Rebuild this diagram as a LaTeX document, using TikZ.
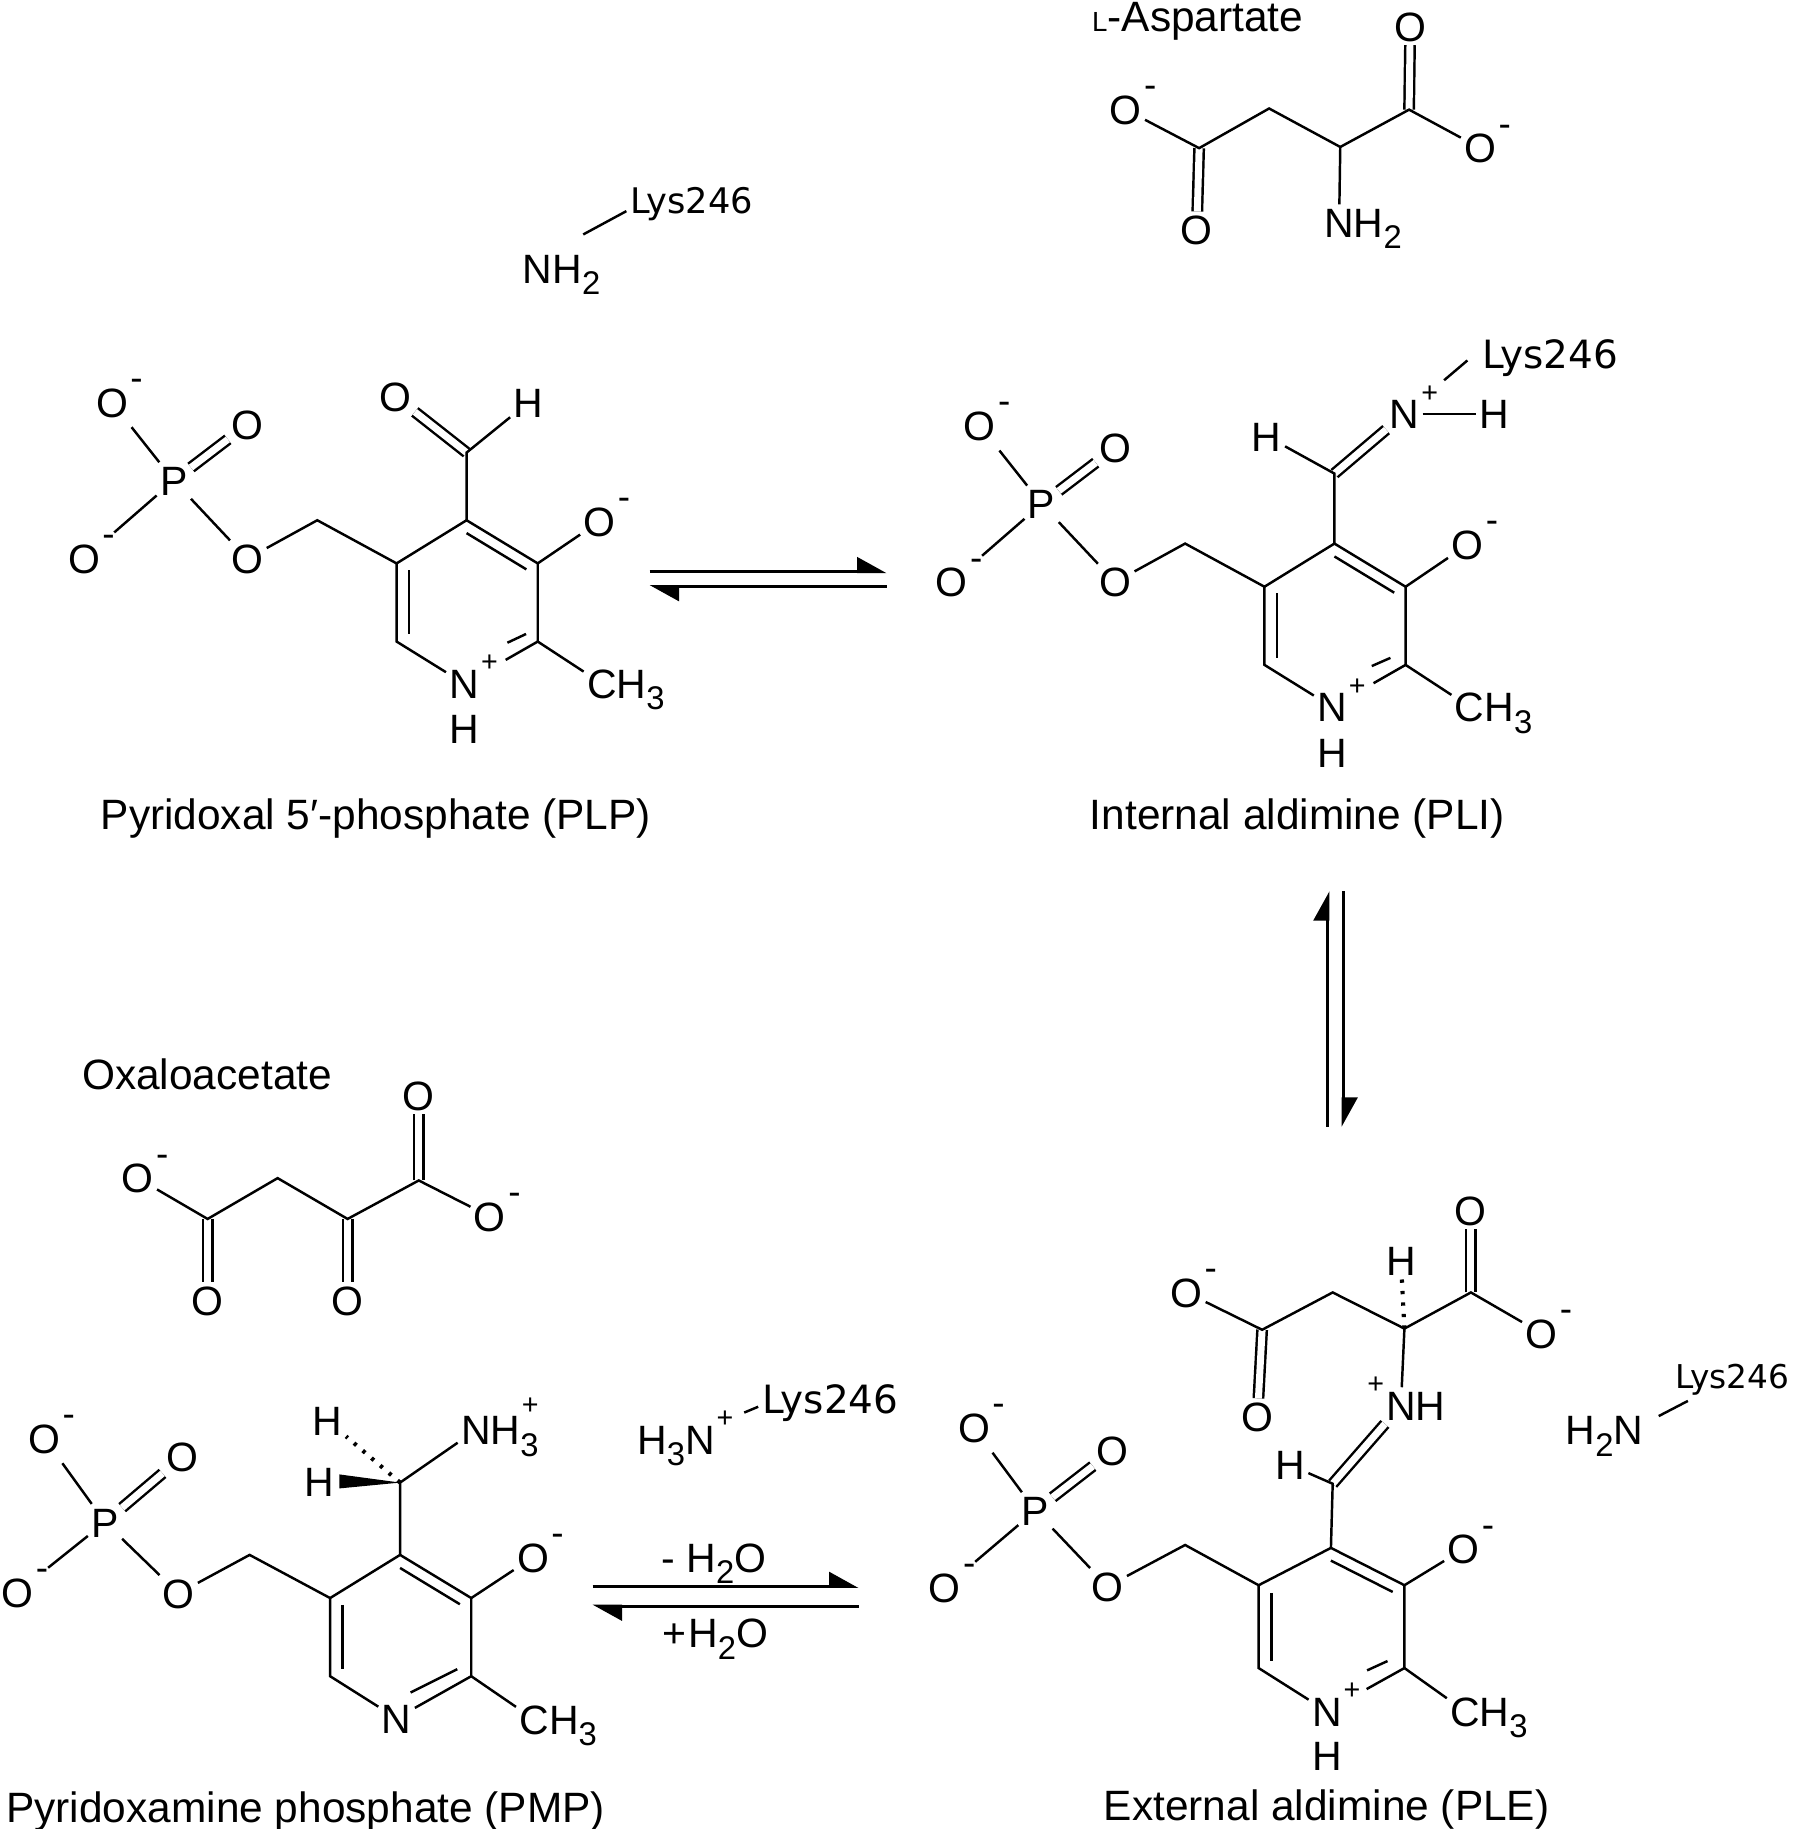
\documentclass[tikz,border=0pt]{standalone}
\usepackage{fontspec}
\setmainfont{Liberation Sans}
\newfontfamily\lysfont{DejaVu Sans}
\usetikzlibrary{arrows.meta,calc}
\newcommand{\chgm}{\rlap{\kern1.2pt\raisebox{13pt}{\fontsize{18}{18}\selectfont -}}}
\newcommand{\chgp}{\rlap{\kern1pt\raisebox{13pt}{\fontsize{14}{14}\selectfont +}}}
\newcommand{\subn}[1]{\raisebox{-5.5pt}{\fontsize{16}{16}\selectfont #1}}

\begin{document}
\begin{tikzpicture}[x=0.02cm,y=0.02cm]
\tikzstyle{atom}=[inner sep=1.5pt,text height=14.5pt,text depth=0pt,font=\fontsize{20}{20}\selectfont]
\tikzstyle{lab}=[inner sep=0pt,anchor=base west,font=\fontsize{20.7}{24}\selectfont]
\tikzstyle{bond}=[black,line width=1.2pt]
\tikzstyle{dbond}=[black,line width=1.2pt,double,double distance between line centers=4.6pt]
\tikzstyle{hash}=[black,line width=2pt,dash pattern=on 1.6pt off 4pt]
\tikzstyle{eqm}=[black,line width=1.5pt,-{Triangle[harpoon,length=13pt,width=14pt]}]
\useasboundingbox (0,0) rectangle (1543.1,-1568);
% top left, pyridoxal phosphate
\node (plpOa) at (96,-345) [atom] {O\chgm};
\node (plpOb) at (212,-364) [atom] {O};
\node (plpP) at (149,-412) [atom] {P};
\node (plpOc) at (72,-479) [atom] {O\chgm};
\node (plpOd) at (212,-479) [atom] {O};
\coordinate (plpch) at (272,-446);
\coordinate (plpc5) at (340,-483);
\coordinate (plpc4) at (400,-446);
\coordinate (plpc3) at (461,-483);
\coordinate (plpc2) at (461,-550);
\coordinate (plpc6) at (340,-550);
\coordinate (plpctr) at (400,-515);
\coordinate (plpcho) at (400,-388);
\node (plpN) at (398,-586) [atom] {N\chgp};
\node (plpNH) at (398,-625) [atom] {H};
\node (plpMe) at (516,-586) [atom] {C\rlap{H\subn{3}}};
\node (plpOe) at (514,-447) [atom] {O\chgm};
\node (plpOf) at (339,-340) [atom] {O};
\node (plpH) at (453,-345) [atom] {H};
\draw [dbond] (plpP) -- (plpOb);
\draw [dbond] (plpcho) -- (plpOf);
\draw [bond,shorten <=4pt] (plpOa) -- (plpP);
\draw [bond,shorten <=7pt] (plpOc) -- (plpP);
\draw [bond] (plpP) -- (plpOd);
\draw [bond] (plpOd) -- (plpch) -- (plpc5) -- (plpc4) -- (plpc3) -- (plpc2);
\draw [bond] (plpc5) -- (plpc6) -- (plpN);
\draw [bond,shorten >=13pt] (plpc2) -- (plpN);
\draw [bond] (plpc2) -- (plpMe);
\draw [bond] (plpc3) -- (plpOe);
\draw [bond] (plpc4) -- (plpcho) -- (plpH);
\draw [bond] ($(plpc4)!.16!(plpctr)$) -- ($(plpc3)!.16!(plpctr)$);
\draw [bond] ($(plpc5)!.18!(plpctr)$) -- ($(plpc6)!.18!(plpctr)$);
\coordinate (plpia) at (451,-543.5);
\coordinate (plpib) at (435,-551);
\draw [bond] (plpia) -- (plpib);
% free lysine above it
\node (lysa) at (593,-175) [inner sep=0pt,font=\lysfont\fontsize{17.2}{18}\selectfont] {Lys246};
\node (nha) at (461,-230) [atom] {N\rlap{H\subn{2}}};
\coordinate (lysaa) at (500,-201);
\coordinate (lysab) at (537,-181);
\draw [bond] (lysaa) -- (lysab);
% equilibrium PLP / PLI
\coordinate (eqaa) at (557,-490);
\coordinate (eqab) at (760,-490);
\coordinate (eqac) at (760,-503);
\coordinate (eqad) at (557,-503);
\draw [eqm] (eqaa) -- (eqab);
\draw [eqm] (eqac) -- (eqad);
% aspartate
\node (aspname) at (936,-27) [lab] {{\fontsize{13.5}{14}\selectfont L}-Aspartate};
\node (aspOa) at (965,-94) [atom] {O\chgm};
\node (aspOb) at (1209,-23) [atom] {O};
\node (aspOc) at (1269,-127) [atom] {O\chgm};
\node (aspOd) at (1026,-197) [atom] {O};
\node (aspN) at (1148,-191) [atom] {N\rlap{H\subn{2}}};
\coordinate (aspca) at (1208,-94);
\coordinate (aspcb) at (1149,-126);
\coordinate (aspcc) at (1088,-93);
\coordinate (aspcd) at (1028,-127);
\draw [dbond] (aspca) -- (aspOb);
\draw [dbond] (aspcd) -- (aspOd);
\draw [bond] (aspOa) -- (aspcd) -- (aspcc) -- (aspcb) -- (aspca) -- (aspOc);
\draw [bond] (aspcb) -- (aspN);
% internal aldimine
\node (pliOa) at (840,-365) [atom] {O\chgm};
\node (pliOb) at (956,-384) [atom] {O};
\node (pliP) at (893,-432) [atom] {P};
\node (pliOc) at (816,-499) [atom] {O\chgm};
\node (pliOd) at (956,-499) [atom] {O};
\coordinate (plich) at (1016,-466);
\coordinate (plic5) at (1084,-503);
\coordinate (plic4) at (1144,-466);
\coordinate (plic3) at (1205,-503);
\coordinate (plic2) at (1205,-570);
\coordinate (plic6) at (1084,-570);
\coordinate (plictr) at (1144,-535);
\coordinate (plicn) at (1144,-406);
\node (pliN) at (1142,-606) [atom] {N\chgp};
\node (pliNH) at (1142,-645) [atom] {H};
\node (pliMe) at (1260,-606) [atom] {C\rlap{H\subn{3}}};
\node (pliOe) at (1258,-467) [atom] {O\chgm};
\node (pliNi) at (1204,-355) [atom] {N\chgp};
\node (pliHa) at (1086,-374) [atom] {H};
\node (pliHb) at (1281,-355) [atom] {H};
\node (lysb) at (1329,-307) [inner sep=0pt,font=\lysfont\fontsize{19}{20}\selectfont] {Lys246};
\draw [dbond] (pliP) -- (pliOb);
\draw [dbond] (plicn) -- (pliNi);
\draw [bond,shorten <=4pt] (pliOa) -- (pliP);
\draw [bond,shorten <=7pt] (pliOc) -- (pliP);
\draw [bond] (pliP) -- (pliOd);
\draw [bond] (pliOd) -- (plich) -- (plic5) -- (plic4) -- (plic3) -- (plic2);
\draw [bond] (plic5) -- (plic6) -- (pliN);
\draw [bond,shorten >=13pt] (plic2) -- (pliN);
\draw [bond] (plic2) -- (pliMe);
\draw [bond] (plic3) -- (pliOe);
\draw [bond] (plic4) -- (plicn) -- (pliHa);
\draw [bond] (pliNi) -- (pliHb);
\draw [bond] ($(plic4)!.16!(plictr)$) -- ($(plic3)!.16!(plictr)$);
\draw [bond] ($(plic5)!.18!(plictr)$) -- ($(plic6)!.18!(plictr)$);
\coordinate (pliia) at (1192,-564);
\coordinate (pliib) at (1176,-571);
\draw [bond] (pliia) -- (pliib);
\coordinate (lysba) at (1238,-326);
\coordinate (lysbb) at (1258,-309);
\draw [bond] (lysba) -- (lysbb);
% names of the top row
\node (plpname) at (86,-711) [lab] {Pyridoxal 5′-phosphate (PLP)};
\node (pliname) at (934,-711) [lab] {Internal aldimine (PLI)};
% equilibrium PLI / PLE
\coordinate (eqba) at (1138.4,-966);
\coordinate (eqbb) at (1138.4,-764);
\coordinate (eqbc) at (1151.5,-764);
\coordinate (eqbd) at (1151.5,-966);
\draw [eqm] (eqba) -- (eqbb);
\draw [eqm] (eqbc) -- (eqbd);
% oxaloacetate
\node (oxaname) at (70,-934) [lab] {Oxaloacetate};
\node (oxaOa) at (118,-1010) [atom] {O\chgm};
\node (oxaOb) at (359,-939) [atom] {O};
\node (oxaOc) at (420,-1043) [atom] {O\chgm};
\node (oxaOd) at (178,-1115) [atom] {O};
\node (oxaOe) at (298,-1115) [atom] {O};
\coordinate (oxaca) at (359,-1012);
\coordinate (oxacb) at (298,-1045);
\coordinate (oxacc) at (238,-1010);
\coordinate (oxacd) at (178,-1045);
\draw [dbond] (oxaca) -- (oxaOb);
\draw [dbond] (oxacb) -- (oxaOe);
\draw [dbond] (oxacd) -- (oxaOd);
\draw [bond] (oxaOa) -- (oxacd) -- (oxacc) -- (oxacb) -- (oxaca) -- (oxaOc);
% pyridoxamine phosphate
\node (pmpOa) at (38,-1233) [atom] {O\chgm};
\node (pmpOb) at (156,-1249) [atom] {O};
\node (pmpP) at (90,-1305) [atom] {P};
\node (pmpOc) at (15,-1365) [atom] {O\chgm};
\node (pmpOd) at (153,-1366) [atom] {O};
\coordinate (pmpch) at (214,-1333);
\coordinate (pmpc5) at (283,-1370);
\coordinate (pmpc4) at (343,-1333);
\coordinate (pmpc3) at (404,-1370);
\coordinate (pmpc2) at (404,-1437);
\coordinate (pmpc6) at (283,-1437);
\coordinate (pmpctr) at (343,-1403);
\coordinate (pmpcn) at (343,-1271);
\node (pmpN) at (340,-1473) [atom] {N};
\node (pmpMe) at (458,-1474) [atom] {C\rlap{H\subn{3}}};
\node (pmpOe) at (457,-1335) [atom] {O\chgm};
\node (pmpHa) at (281,-1218) [atom] {H};
\node (pmpHb) at (274,-1270) [atom] {H};
\node (pmpNi) at (408,-1226) [atom] {N\rlap{H\subn{3}\llap{\raisebox{15pt}{\fontsize{14}{14}\selectfont +}}}};
\coordinate (pmpwa) at (291,-1264);
\coordinate (pmpwb) at (291,-1276);
\draw [dbond] (pmpP) -- (pmpOb);
\draw [bond,shorten <=4pt] (pmpOa) -- (pmpP);
\draw [bond,shorten <=7pt] (pmpOc) -- (pmpP);
\draw [bond] (pmpP) -- (pmpOd);
\draw [bond] (pmpOd) -- (pmpch) -- (pmpc5) -- (pmpc4) -- (pmpc3) -- (pmpc2);
\draw [bond] (pmpc5) -- (pmpc6) -- (pmpN);
\draw [bond] (pmpc2) -- (pmpN);
\draw [bond] (pmpc2) -- (pmpMe);
\draw [bond] (pmpc3) -- (pmpOe);
\draw [bond] (pmpc4) -- (pmpcn) -- (pmpNi);
\draw [hash] (pmpcn) -- (pmpHa);
\fill [black] (pmpcn) -- (pmpwa) -- (pmpwb) -- cycle;
\draw [bond] ($(pmpc4)!.16!(pmpctr)$) -- ($(pmpc3)!.16!(pmpctr)$);
\draw [bond] ($(pmpc5)!.18!(pmpctr)$) -- ($(pmpc6)!.18!(pmpctr)$);
\coordinate (pmpia) at (392,-1431);
\coordinate (pmpib) at (352,-1451);
\draw [bond] (pmpia) -- (pmpib);
\node (pmpname) at (5,-1562) [lab] {Pyridoxamine phosphate (PMP)};
% lysine and water between the bottom molecules
\node (nhc) at (600,-1234) [atom] {\llap{H\subn{3}}N\chgp};
\node (lysc) at (712,-1203) [inner sep=0pt,font=\lysfont\fontsize{19}{20}\selectfont] {Lys246};
\coordinate (lysca) at (638,-1211);
\coordinate (lyscb) at (650,-1206);
\draw [bond] (lysca) -- (lyscb);
\node (wata) at (612,-1335) [atom] {- H\subn{2}O};
\node (watb) at (613,-1400) [atom] {+\kern1pt H\subn{2}O};
\coordinate (eqca) at (508,-1360);
\coordinate (eqcb) at (736,-1360);
\coordinate (eqcc) at (736,-1377);
\coordinate (eqcd) at (508,-1377);
\draw [eqm] (eqca) -- (eqcb);
\draw [eqm] (eqcc) -- (eqcd);
% external aldimine
\node (pleOa) at (835,-1224) [atom] {O\chgm};
\node (pleOb) at (953.5,-1244) [atom] {O};
\node (pleP) at (887.7,-1295) [atom] {P};
\node (pleOc) at (810,-1361) [atom] {O\chgm};
\node (pleOd) at (949.5,-1360) [atom] {O};
\coordinate (plech) at (1016,-1324.5);
\coordinate (plec5) at (1079,-1359);
\coordinate (plec4) at (1141,-1327);
\coordinate (plec3) at (1204,-1359);
\coordinate (plec2) at (1204,-1430);
\coordinate (plec6) at (1079,-1430);
\coordinate (plectr) at (1141,-1395);
\coordinate (plecn) at (1142.5,-1272);
\node (pleN) at (1137.5,-1467) [atom] {N\chgp};
\node (pleNH) at (1137.5,-1505) [atom] {H};
\node (pleMe) at (1256,-1467) [atom] {C\rlap{H\subn{3}}};
\node (pleOe) at (1254.7,-1328) [atom] {O\chgm};
\node (pleHa) at (1106,-1256) [atom] {H};
\node (pleNi) at (1201,-1205) [atom] {\llap{\raisebox{13pt}{\fontsize{14}{14}\selectfont +}\kern1pt}N\rlap{H}};
\coordinate (pleaa) at (1204,-1139);
\coordinate (pleab) at (1261,-1108);
\coordinate (pleac) at (1142.5,-1108);
\coordinate (plead) at (1082,-1140);
\node (pleAa) at (1017,-1108) [atom] {O\chgm};
\node (pleAb) at (1261,-1038) [atom] {O};
\node (pleAc) at (1321.5,-1143) [atom] {O\chgm};
\node (pleAd) at (1078,-1214.5) [atom] {O};
\node (pleAH) at (1201,-1081) [atom] {H};
\draw [dbond] (pleP) -- (pleOb);
\draw [dbond] (plecn) -- (pleNi);
\draw [dbond] (pleab) -- (pleAb);
\draw [dbond] (plead) -- (pleAd);
\draw [bond,shorten <=4pt] (pleOa) -- (pleP);
\draw [bond,shorten <=7pt] (pleOc) -- (pleP);
\draw [bond] (pleP) -- (pleOd);
\draw [bond] (pleOd) -- (plech) -- (plec5) -- (plec4) -- (plec3) -- (plec2);
\draw [bond] (plec5) -- (plec6) -- (pleN);
\draw [bond,shorten >=12pt] (plec2) -- (pleN);
\draw [bond] (plec2) -- (pleMe);
\draw [bond] (plec3) -- (pleOe);
\draw [bond] (plec4) -- (plecn) -- (pleHa);
\draw [bond] (pleAa) -- (plead) -- (pleac) -- (pleaa) -- (pleab) -- (pleAc);
\draw [bond] (pleaa) -- (pleNi);
\draw [hash] (pleaa) -- (pleAH);
\draw [bond] ($(plec4)!.16!(plectr)$) -- ($(plec3)!.16!(plectr)$);
\draw [bond] ($(plec5)!.18!(plectr)$) -- ($(plec6)!.18!(plectr)$);
\coordinate (pleia) at (1189.5,-1424);
\coordinate (pleib) at (1172,-1432);
\draw [bond] (pleia) -- (pleib);
\node (plename) at (946,-1561) [lab] {External aldimine (PLE)};
% lysine at the right
\node (nhd) at (1396,-1226) [atom] {\llap{H\subn{2}}N};
\node (lysd) at (1485,-1183) [inner sep=0pt,font=\lysfont\fontsize{16}{17}\selectfont] {Lys246};
\coordinate (lysda) at (1422,-1214);
\coordinate (lysdb) at (1447,-1201);
\draw [bond] (lysda) -- (lysdb);
\end{tikzpicture}
\end{document}
